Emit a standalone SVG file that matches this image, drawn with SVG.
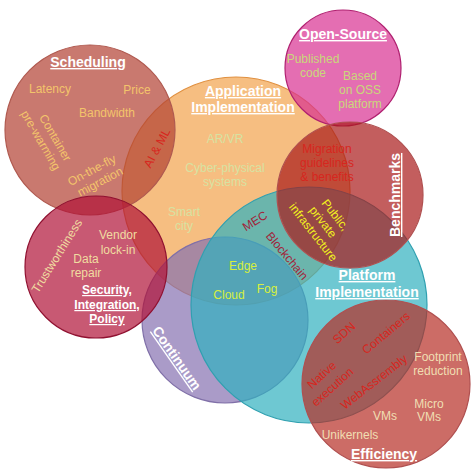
<svg xmlns="http://www.w3.org/2000/svg" width="474" height="474" viewBox="0 0 474 474">
<style>
text{font-family:"Liberation Sans",Arial,sans-serif;font-size:12px;text-anchor:middle}
.c{fill-opacity:0.7;stroke-width:1.2}
.t{font-size:14px;font-weight:bold;fill:#fff;text-decoration:underline}
.ts{font-size:12px;font-weight:bold;fill:#fff;text-decoration:underline}
.sch{fill:#F3C46B}
.app{fill:#D6E2A2}
.oss{fill:#C9D87A}
.tr{fill:#F0DCA0}
.eff{fill:#F0DEB2}
.red{fill:#D7261E}
.dred{fill:#A2243A}
.edge{fill:#D8F03C}
.yel{fill:#F2F21E}
</style>
<rect width="474" height="474" fill="#fff"/>
<g id="circles">
<circle id="c-app" class="c" cx="236" cy="191" r="114" fill="#F2A24C" stroke="#E09040"/>
<circle id="c-sched" class="c" cx="90" cy="130" r="85" fill="#B24032" fill-opacity="0.56" stroke="#B05A50"/>
<circle id="c-oss" class="c" cx="343" cy="68" r="58" fill="#D83091" stroke="#B02070"/>
<circle id="c-cont" class="c" cx="225" cy="320" r="83" fill="#8670B0" stroke="#8070A8"/>
<circle id="c-plat" class="c" cx="309" cy="305" r="118" fill="#30B0BF" stroke="#30A0B0"/>
<circle id="c-bench" class="c" cx="350" cy="195" r="73" fill="#A91919" fill-opacity="0.5" stroke="#B05050"/>
<circle id="c-trust" class="c" cx="96" cy="267" r="71" fill="#B01337" stroke="#901030"/>
<circle id="c-eff" class="c" cx="386" cy="384" r="84" fill="#B62E25" fill-opacity="0.55" stroke="#B05050"/>
</g>
<g id="scheduling">
<text class="t" x="88" y="67">Scheduling</text>
<text class="sch" x="50" y="93">Latency</text>
<text class="sch" x="137" y="94">Price</text>
<text class="sch" x="107" y="117">Bandwidth</text>
<g transform="translate(48,139) rotate(60)"><text class="sch" x="2.5" y="-3">Container</text><text class="sch" x="-2.5" y="11">pre-warming</text></g>
<g transform="translate(96,176) rotate(-28)"><text class="sch" x="-1" y="-3">On-the-fly</text><text class="sch" x="1" y="11">migration</text></g>
<text class="red" transform="translate(157,148) rotate(-62)" y="4">AI &amp; ML</text>
</g>
<g id="application">
<text class="t" x="243" y="96">Application</text>
<text class="t" x="243" y="112">Implementation</text>
<text class="app" x="225" y="143">AR/VR</text>
<text class="app" x="225" y="172">Cyber-physical</text>
<text class="app" x="225" y="186">systems</text>
<text class="app" x="184" y="216">Smart</text>
<text class="app" x="184" y="230">city</text>
</g>
<g id="open-source">
<text class="t" x="343" y="39">Open-Source</text>
<text class="oss" x="313" y="63">Published</text>
<text class="oss" x="313" y="77">code</text>
<text class="oss" x="360" y="80">Based</text>
<text class="oss" x="360" y="94">on OSS</text>
<text class="oss" x="360" y="108">platform</text>
</g>
<g id="benchmarks">
<text class="t" transform="translate(395,195) rotate(-90)" y="5">Benchmarks</text>
<text class="red" x="327" y="153">Migration</text>
<text class="red" x="327" y="167">guidelines</text>
<text class="red" x="327" y="181">&amp; benefits</text>
<g transform="translate(323,222) rotate(52)"><text class="yel" x="2" y="-10">Public,</text><text class="yel" y="4">private</text><text class="yel" x="2" y="18">infrastructure</text></g>
</g>
<g id="trust">
<text class="tr" transform="translate(57,256) rotate(-58)" y="4">Trustworthiness</text>
<text class="tr" x="118" y="239">Vendor</text>
<text class="tr" x="118" y="254">lock-in</text>
<text class="tr" x="86" y="263">Data</text>
<text class="tr" x="86" y="277">repair</text>
<text class="ts" x="107" y="294">Security,</text>
<text class="ts" x="107" y="309">Integration,</text>
<text class="ts" x="107" y="323">Policy</text>
</g>
<g id="continuum">
<text class="t" transform="translate(177,358) rotate(55)" y="5">Continuum</text>
<text class="edge" x="243" y="270">Edge</text>
<text class="edge" x="229" y="299">Cloud</text>
<text class="edge" x="267" y="293">Fog</text>
</g>
<g id="platform">
<text class="t" x="367" y="280">Platform</text>
<text class="t" x="367" y="297">Implementation</text>
<text class="dred" transform="translate(255,221) rotate(-32)" y="4">MEC</text>
<text class="dred" transform="translate(287,256) rotate(50)" y="4">Blockchain</text>
<text class="red" transform="translate(344,333) rotate(-42)" y="4">SDN</text>
<text class="red" transform="translate(386,333) rotate(-40)" y="4">Containers</text>
<g transform="translate(327,381) rotate(-42)"><text class="red" y="-4">Native</text><text class="red" y="12">execution</text></g>
<text class="red" transform="translate(374,382) rotate(-38)" y="4">WebAssrembly</text>
</g>
<g id="efficiency">
<text class="eff" x="438" y="361">Footprint</text>
<text class="eff" x="438" y="375">reduction</text>
<text class="eff" x="429" y="408">Micro</text>
<text class="eff" x="429" y="421">VMs</text>
<text class="eff" x="385" y="420">VMs</text>
<text class="eff" x="350" y="439">Unikernels</text>
<text class="t" x="384" y="459">Efficiency</text>
</g>
</svg>
